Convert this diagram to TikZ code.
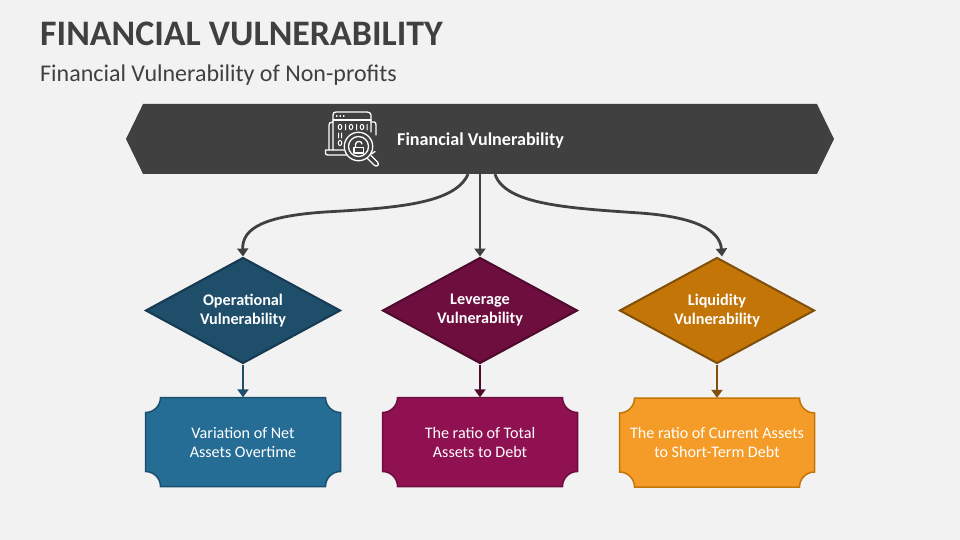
\documentclass[tikz,border=0pt]{standalone}
\usepackage{fontspec}
\setmainfont{Carlito}
\usetikzlibrary{shapes.geometric,shapes.symbols,arrows.meta}
\definecolor{bg}{HTML}{F2F2F2}
\definecolor{dark}{HTML}{404040}
\definecolor{titlec}{HTML}{404040}
\definecolor{bluefill}{HTML}{1F4E6B}
\definecolor{blueline}{HTML}{153A52}
\definecolor{boxblue}{HTML}{266D96}
\definecolor{boxblueline}{HTML}{1C4F6E}
\definecolor{redfill}{HTML}{6D0E3F}
\definecolor{redline}{HTML}{4E0A2D}
\definecolor{boxred}{HTML}{8F1152}
\definecolor{boxredline}{HTML}{6D0E3F}
\definecolor{orfill}{HTML}{C47508}
\definecolor{orline}{HTML}{7F4F0B}
\definecolor{boxor}{HTML}{F49C27}
\definecolor{boxorline}{HTML}{C47508}
\tikzset{
  x=1pt,y=-1pt,
  decision/.style={diamond,aspect=1.84,minimum width=195pt,minimum height=106pt,inner sep=0pt,line width=2pt,align=center,text=white,font=\fontsize{16.2}{19}\selectfont\bfseries},
  plaquetext/.style={minimum width=195pt,minimum height=89pt,inner sep=0pt,align=center,text=white,font=\fontsize{16.1}{19}\selectfont},
  plaqueshape/.style={line width=1.5pt,line join=miter},
  link/.style={line width=2.8pt,-{Triangle[length=8pt,width=11pt]}},
  icon/.style={draw=white,line width=1.3pt,line cap=round,line join=round}
}
\newcommand{\plaque}[4]{% cx, cy, fill, line
  \begin{scope}[shift={(#1,#2)}]
  \path[plaqueshape,fill=#3,draw=#4]
    (-82.5,-44.5) -- (82.5,-44.5)
    .. controls (82.5,-36.2) and (89.2,-29.5) .. (97.5,-29.5)
    -- (97.5,29.5)
    .. controls (89.2,29.5) and (82.5,36.2) .. (82.5,44.5)
    -- (-82.5,44.5)
    .. controls (-82.5,36.2) and (-89.2,29.5) .. (-97.5,29.5)
    -- (-97.5,-29.5)
    .. controls (-89.2,-29.5) and (-82.5,-36.2) .. (-82.5,-44.5) -- cycle;
  \end{scope}}
\begin{document}
\begin{tikzpicture}
\useasboundingbox[fill=bg] (0,0) rectangle (960,540);
\node[anchor=west,inner sep=0pt,text=titlec,font=\fontsize{35.9}{40}\selectfont\bfseries] (title) at (40,34) {FINANCIAL VULNERABILITY};
\node[anchor=west,inner sep=0pt,text=titlec,font=\fontsize{24}{28}\selectfont] (subtitle) at (40,75) {Financial Vulnerability of Non-profits};

\node[signal,signal to=east and west,signal pointer angle=128,fill=dark,minimum width=708pt,minimum height=70pt,inner sep=0pt] (banner) at (480,139) {};
\node[anchor=west,inner sep=0pt,text=white,font=\fontsize{18.1}{20}\selectfont\bfseries] (bannertext) at (397,140.5) {Financial Vulnerability};

% icon
\draw[icon] (329,150) -- (329,125) .. controls (329,123) and (330,122) .. (333,122);
\draw[icon] (333,150) -- (333,115) .. controls (333,113) and (334,112) .. (336,112) -- (367,112) .. controls (369,112) and (371,113) .. (371,115) -- (371,132);
\draw[icon] (371,122) -- (374,122) .. controls (375.5,122) and (376,123) .. (376,125) -- (376,135);
\draw[icon] (333,120) -- (371,120);
\draw[icon] (336.5,116) -- (337,116) (340,116) -- (340.5,116) (343.5,116) -- (344,116);
\draw[icon] (325.5,150) -- (344,150) (325.5,150) -- (325.5,153) .. controls (325.5,154.5) and (326,155) .. (328,155) -- (347,155);
\draw[icon,line width=1pt] (340,127) ellipse (1.8 and 2.6) (351,127) ellipse (1.8 and 2.6) (362,127) ellipse (1.8 and 2.6)
  (345.5,124.5) -- (345.5,130) (356.5,124.5) -- (356.5,130) (367,124.5) -- (367,130)
  (340,143) ellipse (1.8 and 2.6) (338.5,133) -- (338.5,138) (341.5,133) -- (341.5,138);
\draw[icon,fill=dark] (358.5,146.5) circle (14.2);
\draw[icon] (358.5,146.5) circle (10);
\draw[icon] (371,155.5) -- (377.5,162) .. controls (380,165) and (376.5,167.5) .. (374,165) -- (367.5,158.5);
\draw[icon] (371.5,154) -- (375,151.5);
\draw[icon] (354,147.5) rectangle (363.5,153);
\draw[icon] (355.5,147.5) -- (355.5,144.5) .. controls (355.5,140.5) and (362,140.5) .. (362,144);

% diamonds
\node[decision,fill=bluefill,draw=blueline] (d1) at (243,310.5) {Operational\\Vulnerability};
\node[decision,fill=redfill,draw=redline] (d2) at (480,310.5) {Leverage\\Vulnerability};
\node[decision,fill=orfill,draw=orline] (d3) at (717,310.5) {Liquidity\\Vulnerability};

% plaques
\plaque{243}{442}{boxblue}{boxblueline}
\plaque{480}{442}{boxred}{boxredline}
\plaque{717}{442.5}{boxor}{boxorline}
\node[plaquetext] (b1) at (243,442) {Variation of Net\\Assets Overtime};
\node[plaquetext] (b2) at (480,442) {The ratio of Total\\Assets to Debt};
\node[plaquetext] (b3) at (717,442.5) {The ratio of Current Assets\\to Short-Term Debt};

% connectors
\draw[link,draw=dark,fill=none] ([xshift=-12pt]banner.south) .. controls (455,204) and (395,208) .. (325,212) .. controls (265,216) and (242,228) .. (d1.north);
\draw[link,draw=dark] (banner.south) -- (d2.north);
\draw[link,draw=dark] ([xshift=15pt]banner.south) .. controls (505,204) and (565,208) .. (640,213) .. controls (695,217) and (720,230) .. ([xshift=5pt]d3.north);
\draw[link,draw=bluefill] (d1.south) -- (b1.north);
\draw[link,draw=redline] (d2.south) -- (b2.north);
\draw[link,draw=orline] (d3.south) -- (b3.north);
\end{tikzpicture}
\end{document}
